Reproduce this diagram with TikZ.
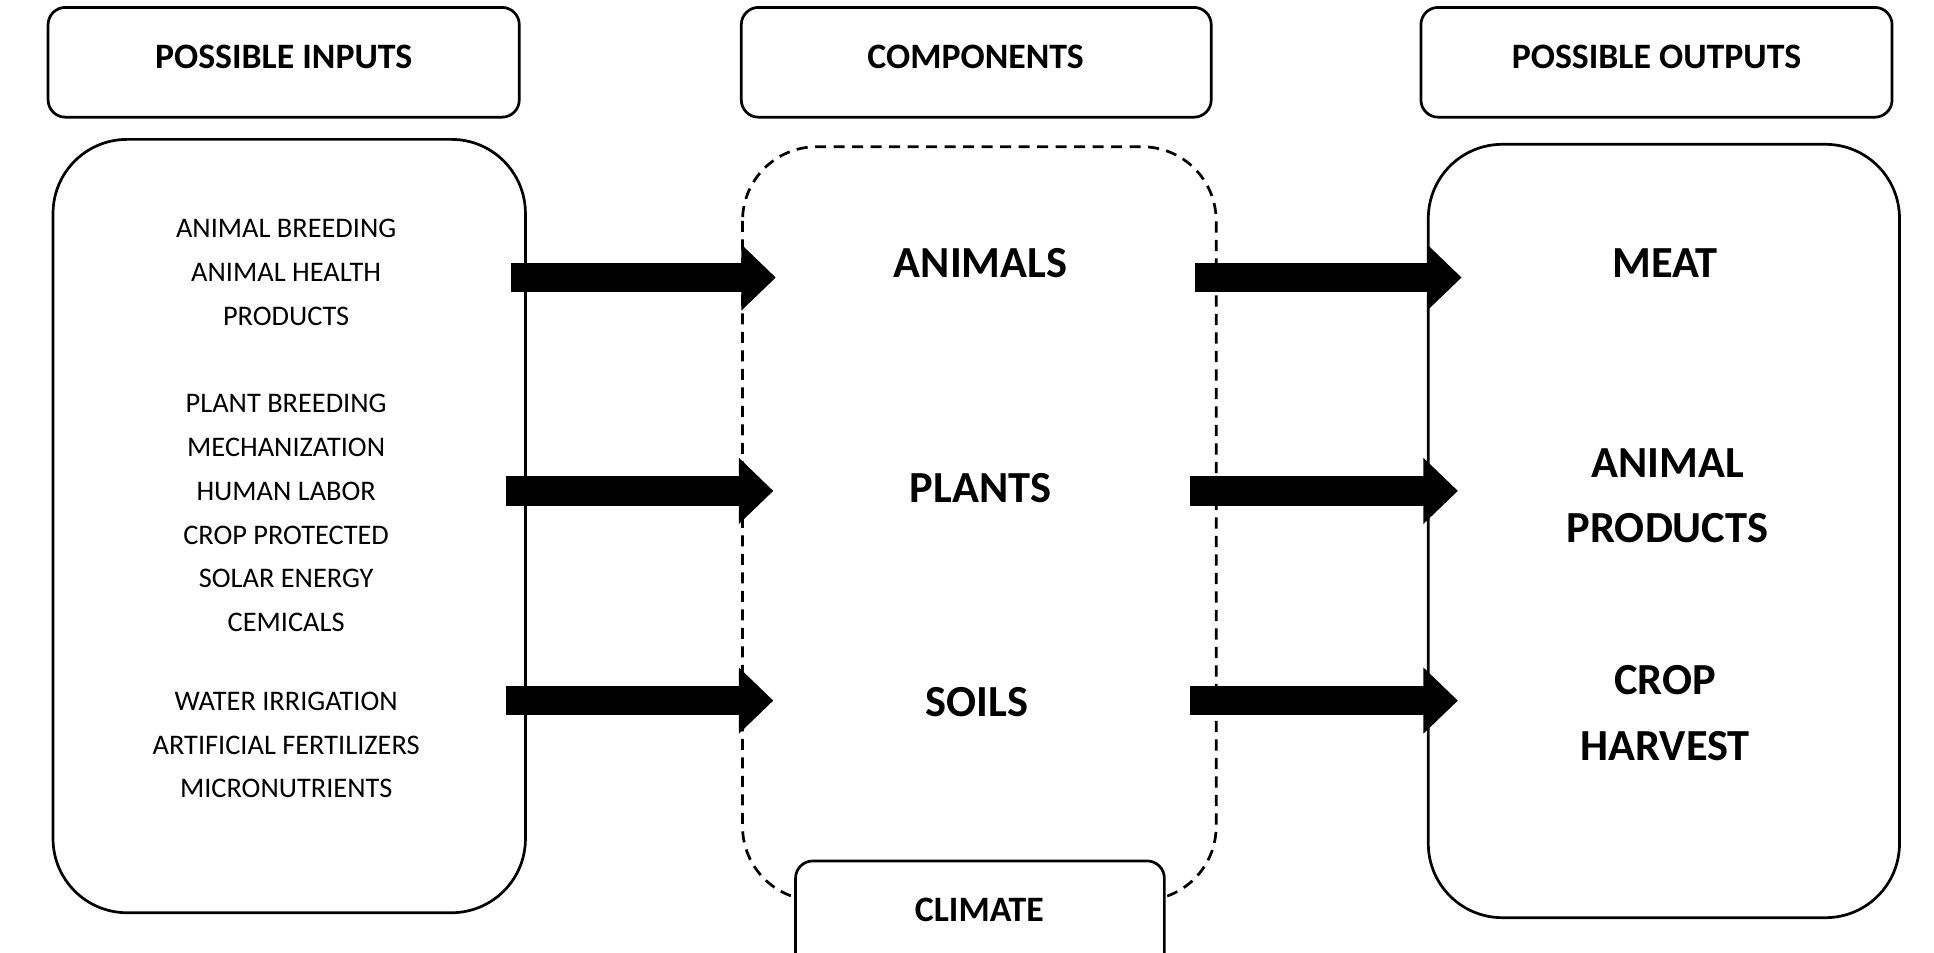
\documentclass[tikz,border=0pt]{standalone}
\usepackage{fontspec}
\setmainfont{Carlito}
\usetikzlibrary{arrows.meta}
\begin{document}
\begin{tikzpicture}[x=1pt,y=-1pt,
  box/.style={draw,line width=2.2pt,rounded corners=14pt},
  bigbox/.style={draw,line width=2.2pt,rounded corners=60pt},
  hdr/.style={font=\fontsize{29}{34}\selectfont\bfseries},
  small/.style={font=\fontsize{23}{35.5}\selectfont,align=center},
  big/.style={font=\fontsize{36}{53}\selectfont\bfseries,align=center},
  blk/.style={line width=24pt,-{Triangle[width=52pt,length=28pt]}}]
\useasboundingbox (0,0) rectangle (1568,772);
\draw[box] (39,6) rectangle (421,95);
\node[hdr] (hin) at (230,46) {POSSIBLE INPUTS};
\draw[box] (601,6) rectangle (982,95);
\node[hdr] (hco) at (791,46) {COMPONENTS};
\draw[box] (1152,6) rectangle (1534,95);
\node[hdr] (hou) at (1343,46) {POSSIBLE OUTPUTS};
\draw[bigbox] (43,113) rectangle (426,740);
\draw[line width=2.2pt,dashed,dash pattern=on 9pt off 6pt,rounded corners=60pt] (602,119) rectangle (986,730);
\draw[bigbox] (1158,117) rectangle (1540,744);
\draw[box,fill=white] (645,698) rectangle (944,790);
\node[hdr] (cli) at (794,738) {CLIMATE};
\node[small] (i1) at (232,221) {ANIMAL BREEDING\\ANIMAL HEALTH\\PRODUCTS};
\node[small] (i2) at (232,416) {PLANT BREEDING\\MECHANIZATION\\HUMAN LABOR\\CROP PROTECTED\\SOLAR ENERGY\\CEMICALS};
\node[small] (i3) at (232,604) {WATER IRRIGATION\\ARTIFICIAL FERTILIZERS\\MICRONUTRIENTS};
\node[big] (c1) at (795,213) {ANIMALS};
\node[big] (c2) at (795,396) {PLANTS};
\node[big] (c3) at (792,569) {SOILS};
\node[big] (o1) at (1350,213) {MEAT};
\node[big] (o2) at (1352,402) {ANIMAL\\PRODUCTS};
\node[big] (o3) at (1350,578) {CROP\\HARVEST};
\coordinate (a1s) at (414,225); \coordinate (a1e) at (629,225);
\coordinate (a2s) at (410,398); \coordinate (a2e) at (627,398);
\coordinate (a3s) at (410,568); \coordinate (a3e) at (627,568);
\coordinate (b1s) at (969,225); \coordinate (b1e) at (1185,225);
\coordinate (b2s) at (965,398); \coordinate (b2e) at (1182,398);
\coordinate (b3s) at (965,568); \coordinate (b3e) at (1182,568);
\foreach \p in {a1,a2,a3,b1,b2,b3} \draw[blk] (\p s) -- (\p e);
\end{tikzpicture}
\end{document}
